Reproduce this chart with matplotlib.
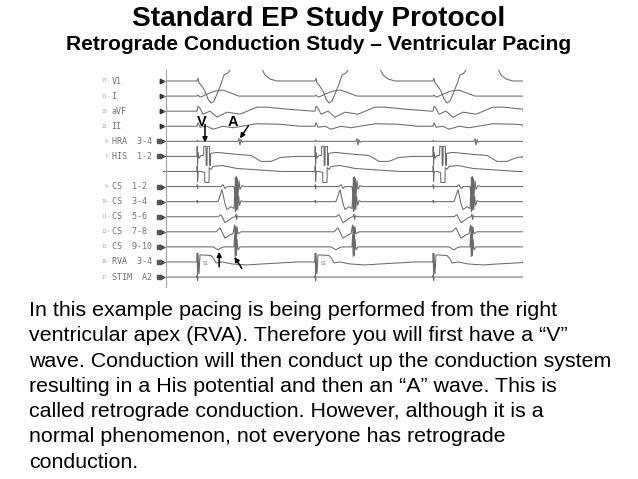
import numpy as np
import matplotlib
matplotlib.use("Agg")
import matplotlib.pyplot as plt

# slide text
title = "Standard EP Study Protocol"
subtitle = "Retrograde Conduction Study \u2013 Ventricular Pacing"
body_lines = [
    "In this example pacing is being performed from the right",
    "ventricular apex (RVA). Therefore you will first have a \u201cV\u201d",
    "wave. Conduction will then conduct up the conduction system",
    "resulting in a His potential and then an \u201cA\u201d wave. This is",
    "called retrograde conduction. However, although it is a",
    "normal phenomenon, not everyone has retrograde",
    "conduction.",
]

# channel labels (prefix number, name); "" = unlabeled second HIS row
label_nums = ["27", "21", "20", "22", "6", "7", "", "9", "10", "11", "12", "13", "16", "17"]
label_names = ["V1", "I", "aVF", "II", "HRA  3-4", "HIS  1-2", "", "CS  1-2", "CS  3-4",
               "CS  5-6", "CS  7-8", "CS  9-10", "RVA  3-4", "STIM  A2"]

# pacing stimuli (ms from start of strip), strip length ms
beats = [155, 745, 1335]
strip_end = 1785
a_delay = 215   # retrograde A on HRA, ms after stimulus
v_time = 40     # V marker, ms after stimulus

# one beat per channel: (ms after stimulus, amplitude)
v1 = [(0, 0), (5, 3), (10, -2), (20, -4), (40, -10), (55, -18), (70, -22), (85, -20),
      (100, -13), (120, -3), (135, 6), (155, 8), (175, 14), (225, 30), (275, 30),
      (320, 14), (340, 6), (365, 2), (400, 0)]
lead_i = [(0, 0), (5, 1), (15, -1), (30, 0), (50, 2), (90, 5), (130, 6), (170, 3), (210, 0)]
avf = [(0, 0), (5, 5), (15, 3), (30, -3), (65, 0), (100, -6), (150, -1), (215, -3),
       (300, 4), (350, 4), (450, 2), (580, 0)]
lead_ii = [(0, 0), (5, 3.5), (15, -1), (50, 0), (80, -3), (130, 0), (180, -1.5),
           (300, 2.5), (415, 2), (515, 0)]
hra = [(0, 0), (2, 1), (5, 0), (205, 0), (210, 3), (215, -4), (220, 2), (225, -1), (235, 0)]
his = [(0, 0), (1, 10), (3, -8), (6, 4), (10, -2), (20, 1), (33, 1), (34, 10), (45, 10),
       (46, -9), (50, -9), (51, 10), (62, 10), (63, -9), (67, -9), (68, 3), (100, 4),
       (200, 2), (270, 1), (320, -5), (370, -5), (420, -1), (490, 0)]
his_b = [(0, 0), (1, 6), (3, -10), (6, 0), (20, 0), (38, -1), (39, -11), (60, -11),
         (61, 4), (70, 2), (80, 5), (125, 6), (200, 3), (275, 2), (425, 0)]
cs12 = [(0, 0), (1, 2), (3, -2), (5, 0), (120, 0), (130, 2), (140, -2), (150, 0), (185, 0),
        (190, -8), (192, 9), (195, -10), (197, 10), (200, -11), (202, 8), (205, -9),
        (210, 6), (215, -3), (225, 1), (235, 0)]
cs34 = [(0, 0), (1, 1.5), (3, -1.5), (5, 0), (105, 0), (115, 6), (125, 12), (140, -2),
        (150, -8), (170, -5), (185, -7), (190, 14), (192, -10), (195, 13), (198, -9),
        (201, 12), (204, -8), (208, 6), (213, -4), (220, 1), (230, 0)]
cs56 = [(0, 0), (105, 0), (120, 2), (140, -6), (155, -4), (175, -1), (190, 0), (195, 3),
        (198, -3), (202, 1), (210, 0)]
cs78 = [(0, 0), (95, 0), (115, 4), (140, -6.5), (165, -3), (180, -2), (188, 7), (191, -10),
        (194, 6), (197, -9), (200, 5), (205, -2), (220, 0)]
cs910 = [(0, 0), (80, 0), (105, -3), (120, -1), (135, 0), (185, 0), (188, 12), (191, -10),
         (194, 11), (197, -9), (200, 8), (205, -3), (215, 0)]
rva = [(0, 0), (1, 9), (3, -13), (5, 9), (10, -12), (15, 7), (25, 7), (70, 6.5), (85, 3),
       (95, -1), (125, 0), (175, -2), (250, -3), (325, -2), (415, -1), (500, 0)]
stim = [(0, 0), (1, 2), (3, -4), (5, 0)]

channels = [v1, lead_i, avf, lead_ii, hra, his, his_b, cs12, cs34, cs56, cs78, cs910, rva, stim]
row_gap = 15.08
rows = -row_gap * np.arange(len(channels))

fig = plt.figure(figsize=(6.38, 4.79), dpi=100)
W, H = 638, 479

# header
fig.text(0.5, 1 - 26 / H, title, ha="center", va="baseline", fontsize=20.2,
         fontweight="bold", family="Liberation Sans")
fig.text(0.5, 1 - 50 / H, subtitle, ha="center", va="baseline", fontsize=15.1,
         fontweight="bold", family="Liberation Sans")

# body text
for i, line in enumerate(body_lines):
    fig.text(29 / W, 1 - (316 + 25.3 * i) / H, line, ha="left", va="baseline",
             fontsize=15.4, family="Liberation Sans")

# tracing panel
ax = fig.add_axes([166 / W, 1 - 287 / H, 357 / W, 217 / H])
trace_col = "#6a6a6a"
for ch, base in zip(channels, rows):
    t = np.array([p[0] for p in ch], dtype=float)
    a = np.array([p[1] for p in ch], dtype=float)
    xs = [0.0]
    ys = [0.0]
    for b in beats:
        xs.extend(b + t)
        ys.extend(a)
    xs.append(strip_end)
    ys.append(0.0)
    ax.plot(xs, np.array(ys) + base, color=trace_col, lw=0.75, solid_joinstyle="miter")

ax.set_xlim(0, strip_end)
ax.set_ylim(-206, 11)
ax.set_xticks([])
ax.set_yticks([])
for s in ["top", "right", "bottom"]:
    ax.spines[s].set_visible(False)
ax.spines["left"].set_color("#a0a0a0")
ax.spines["left"].set_linewidth(0.8)

# channel labels and markers
px = lambda v: (v - 166) / 357.0
trans = ax.get_yaxis_transform()
for i, (num, name) in enumerate(zip(label_nums, label_names)):
    y = rows[i]
    if name:
        ax.text(px(110.5), y, num + "-", transform=trans, fontsize=3.4, color="#a0a0a0",
                va="center", ha="right", family="DejaVu Sans Mono", clip_on=False)
        ax.text(px(111.5), y, name, transform=trans, fontsize=6, color="#707070",
                va="center", ha="left", family="DejaVu Sans Mono", clip_on=False)
        ax.plot([px(162)], [y], marker=">", ms=3.2, color="#333333", transform=trans,
                clip_on=False)
        if i >= 4:
            ax.plot([px(158.5)], [y], marker="s", ms=2.6, color="#555555",
                    transform=trans, clip_on=False)
    ax.plot([px(163), px(166)], [y, y], color=trace_col, lw=0.7, transform=trans,
            clip_on=False)

# S1 marks on the RVA channel
for b in beats[:2]:
    ax.text(b + 30, rows[12] - 2, "S1", fontsize=3.3, color="#777777", va="center")

# V and A markers
b0 = beats[0]
ax.text(b0 + 23, -40.5, "V", fontsize=10.5, fontweight="bold", ha="center", va="center",
        family="Liberation Sans")
ax.text(b0 + 180, -40.5, "A", fontsize=10.5, fontweight="bold", ha="center", va="center",
        family="Liberation Sans")
arw = dict(arrowstyle="-|>", color="black", lw=1.1, mutation_scale=7, shrinkA=0, shrinkB=0)
ax.annotate("", xy=(b0 + v_time, rows[4] - 1), xytext=(b0 + v_time, rows[4] + 17),
            arrowprops=arw)
ax.annotate("", xy=(b0 + a_delay, rows[4] + 3), xytext=(b0 + a_delay + 42, rows[4] + 15.5),
            arrowprops=arw)
ax.annotate("", xy=(b0 + 111, rows[11] - 5), xytext=(b0 + 111, rows[11] - 20),
            arrowprops=arw)
ax.annotate("", xy=(b0 + 187, rows[11] - 10), xytext=(b0 + 224, rows[11] - 21.5),
            arrowprops=arw)

fig.savefig("out.png", dpi=100, facecolor="white")
